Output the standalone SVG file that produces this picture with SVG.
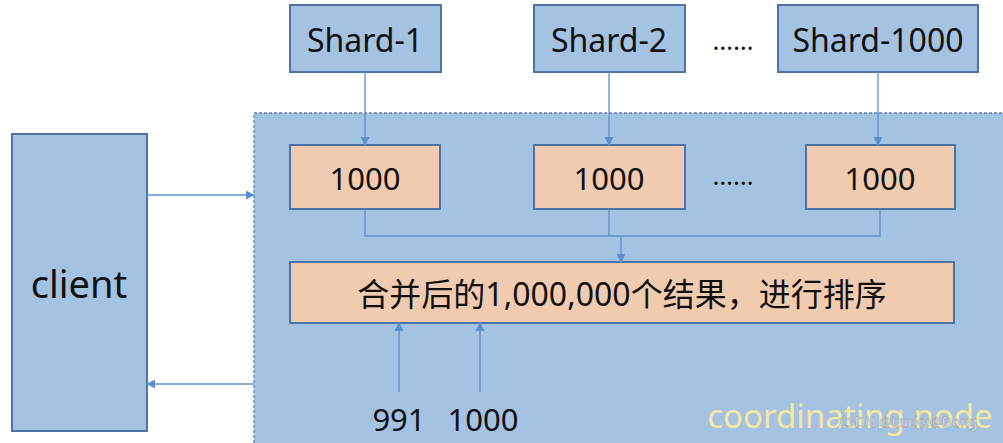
<svg xmlns="http://www.w3.org/2000/svg" width="1003" height="443" viewBox="0 0 1003 443">
<style>
.b{fill:#a4c2e2;stroke:#4f74a4;stroke-width:2}
.o{fill:#f1cbaf;stroke:#4f74a4;stroke-width:2}
.t{font-family:"Noto Sans","Noto Sans CJK SC",sans-serif;fill:#111;text-anchor:middle}
.c{stroke:#5b8fcf;stroke-width:1.3;fill:none}
</style>
<defs><marker id="a" viewBox="0 0 10 10" refX="9" refY="5" markerWidth="9" markerHeight="9" markerUnits="userSpaceOnUse" orient="auto"><path d="M0,0L10,5L0,10z" fill="#5b8fcf"/></marker></defs>
<g id="container"><rect x="254" y="113" width="760" height="340" fill="#a4c2e2" stroke="#5b82b4" stroke-width="1.3" stroke-dasharray="3,2"/>
<text x="850" y="428" font-family="Noto Sans,sans-serif" font-size="33" fill="#f6e6a0" text-anchor="middle">coordinating node</text></g>
<g id="client"><rect class="b" x="12" y="134" width="135" height="297"/><text class="t" x="79" y="298" font-size="38">client</text></g>
<g id="shard1"><rect class="b" x="290" y="5" width="151" height="67"/><text class="t" x="365" y="52" font-size="32">Shard-1</text></g>
<g id="shard2"><rect class="b" x="534" y="5" width="151" height="67"/><text class="t" x="609" y="52" font-size="32">Shard-2</text></g>
<text class="t" x="733" y="50" font-size="26">……</text>
<g id="shard1000"><rect class="b" x="778" y="5" width="200" height="67"/><text class="t" x="878" y="52" font-size="32">Shard-1000</text></g>
<g id="r1"><rect class="o" x="290" y="145" width="150" height="64"/><text class="t" x="365" y="190" font-size="31">1000</text></g>
<g id="r2"><rect class="o" x="534" y="145" width="151" height="64"/><text class="t" x="609" y="190" font-size="31">1000</text></g>
<text class="t" x="733" y="185" font-size="26">……</text>
<g id="r3"><rect class="o" x="806" y="145" width="149" height="64"/><text class="t" x="880" y="190" font-size="31">1000</text></g>
<g id="merge"><rect class="o" x="290" y="262" width="664" height="61"/><text class="t" x="622" y="306" font-size="32">合并后的1,000,000个结果，进行排序</text></g>
<g id="connectors">
<path class="c" d="M365,72V145" marker-end="url(#a)"/>
<path class="c" d="M609,72V145" marker-end="url(#a)"/>
<path class="c" d="M878,72V145" marker-end="url(#a)"/>
<path class="c" d="M365,209V236H880V209M609,209V236"/>
<path class="c" d="M621,236V262" marker-end="url(#a)"/>
<path class="c" d="M399,392V323" marker-end="url(#a)"/>
<path class="c" d="M480,392V323" marker-end="url(#a)"/>
<path class="c" d="M147,195H254" marker-end="url(#a)"/>
<path class="c" d="M254,384H147" marker-end="url(#a)"/>
</g>
<text class="t" x="399" y="431" font-size="31">991</text>
<text class="t" x="483" y="431" font-size="31">1000</text>
<text x="838" y="427" font-family="Noto Sans,sans-serif" font-size="14" fill="#eee" stroke="#777" stroke-width="0.3">CSDN @Lucky@Dong</text>
</svg>
